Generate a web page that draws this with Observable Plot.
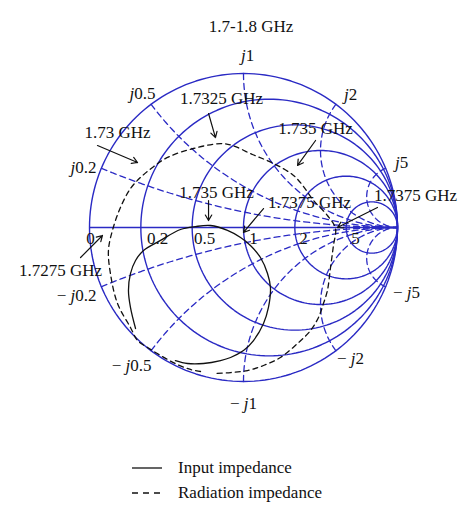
<!DOCTYPE html>
<html><head><meta charset="utf-8">
<script src="https://cdn.jsdelivr.net/npm/d3@7"></script>
<script src="https://cdn.jsdelivr.net/npm/@observablehq/plot@0.6"></script>
<style>
body{margin:0;background:#fff;font-family:"Liberation Serif","DejaVu Serif",serif;color:#111;}
#wrap{position:relative;width:474px;height:518px;overflow:hidden;}
#title{position:absolute;top:17px;left:251px;transform:translateX(-50%);font-size:17px;white-space:nowrap;line-height:20px;}
#chart{position:absolute;top:40px;left:0;}
.leg{position:absolute;left:132px;height:20px;display:flex;align-items:center;font-size:17px;white-space:nowrap;}
.leg svg{margin-right:16px;}
</style></head>
<body><div id="wrap">
<div id="title">1.7-1.8 GHz</div>
<div id="chart"></div>
<div class="leg" style="top:458px"><svg width="30" height="4"><line x1="0" y1="2" x2="30" y2="2" stroke="#111" stroke-width="1.3"/></svg>Input impedance</div>
<div class="leg" style="top:483px"><svg width="30" height="4"><line x1="0" y1="2" x2="30" y2="2" stroke="#111" stroke-width="1.3" stroke-dasharray="6,5"/></svg>Radiation impedance</div>
</div>
<script>
// Smith chart grid values
const resistanceValues = [0, 0.2, 0.5, 1, 2, 5];
const reactanceValues = [0.2, 0.5, 1, 2, 5, -0.2, -0.5, -1, -2, -5];
const resistanceLabels = ["0", "0.2", "0.5", "1", "2", "5"];
const resistanceLabelX = [-0.994, -0.558, -0.253, 0.065, 0.390, 0.727];
const resistanceLabelY = [-0.071, -0.071, -0.071, -0.071, -0.071, -0.071];
const reactanceLabels = ["j0.2", "j0.5", "j1", "j2", "j5", "− j0.2", "− j0.5", "− j1", "− j2", "− j5"];
const reactanceLabelX = [-1.039, -0.656, 0.026, 0.695, 1.026, -1.084, -0.727, 0.0, 0.695, 1.058];
const reactanceLabelY = [0.390, 0.870, 1.117, 0.864, 0.422, -0.442, -0.896, -1.143, -0.851, -0.422];

// Input impedance (reflection coefficient, real / imaginary)
const inputRe = [-0.701, -0.734, -0.747, -0.734, -0.701, -0.649, -0.539, -0.409, -0.312, -0.214, -0.104, -0.019, 0.045, 0.110, 0.156, 0.175, 0.162, 0.130, 0.065, 0.0, -0.084, -0.149, -0.260, -0.364, -0.442];
const inputIm = [-0.656, -0.519, -0.409, -0.299, -0.214, -0.149, -0.084, -0.013, 0.006, 0.013, -0.019, -0.065, -0.117, -0.195, -0.299, -0.390, -0.519, -0.623, -0.734, -0.799, -0.844, -0.864, -0.883, -0.883, -0.864];

// Radiation impedance (reflection coefficient, real / imaginary)
const radRe = [-0.279, -0.344, -0.429, -0.539, -0.623, -0.688, -0.734, -0.818, -0.864, -0.877, -0.851, -0.799, -0.734, -0.669, -0.591, -0.494, -0.325, -0.149, -0.071, 0.058, 0.195, 0.325, 0.390, 0.455, 0.545, 0.597, 0.584, 0.565, 0.545, 0.519, 0.487, 0.435, 0.351, 0.240, 0.130, 0.026, -0.084, -0.195];
const radIm = [-0.935, -0.922, -0.890, -0.831, -0.779, -0.734, -0.649, -0.494, -0.299, -0.149, -0.019, 0.130, 0.253, 0.325, 0.390, 0.455, 0.513, 0.545, 0.532, 0.474, 0.416, 0.338, 0.266, 0.175, 0.078, -0.006, -0.117, -0.260, -0.409, -0.494, -0.584, -0.669, -0.753, -0.844, -0.896, -0.929, -0.942, -0.948];

// Frequency annotations
const annotationText = ["1.73 GHz", "1.7325 GHz", "1.735 GHz", "1.735 GHz", "1.7375 GHz", "1.7375 GHz", "1.7275 GHz"];
const annotationX = [-0.818, -0.143, 0.468, -0.175, 0.429, 1.117, -1.188];
const annotationY = [0.617, 0.838, 0.643, 0.227, 0.162, 0.208, -0.279];
const arrowFromX = [-0.948, -0.227, 0.468, -0.227, 0.130, 0.870, -1.058];
const arrowFromY = [0.532, 0.740, 0.565, 0.175, 0.123, 0.130, -0.195];
const arrowToX = [-0.688, -0.182, 0.351, -0.227, 0.0, 0.610, -0.916];
const arrowToY = [0.422, 0.584, 0.403, 0.045, -0.032, 0.0, -0.052];

const BLUE = "#2a2ac4";

// grid geometry built from the grid values
const angles = d3.range(0, 361, 2).map(d => d * Math.PI / 180);
const resistancePts = resistanceValues.flatMap(r =>
  angles.map(t => ({r, x: r / (1 + r) + Math.cos(t) / (1 + r), y: Math.sin(t) / (1 + r)})));
const rSamples = [0].concat(d3.range(-3, 3.01, 0.02).map(e => Math.pow(10, e)));
const reactancePts = reactanceValues.flatMap(xv =>
  rSamples.map(r => {
    const D = (r + 1) * (r + 1) + xv * xv;
    return {xv, x: (r * r + xv * xv - 1) / D, y: 2 * xv / D};
  }));

const inputPts = inputRe.map((v, i) => ({x: v, y: inputIm[i]}));
const radPts = radRe.map((v, i) => ({x: v, y: radIm[i]}));
const resLab = resistanceLabels.map((t, i) => ({t, x: resistanceLabelX[i], y: resistanceLabelY[i]}));
const reaLab = reactanceLabels.map((t, i) => ({t, x: reactanceLabelX[i], y: reactanceLabelY[i]}));
const ann = annotationText.map((t, i) => ({t, x: annotationX[i], y: annotationY[i]}));
const arrows = arrowFromX.map((v, i) => ({x1: v, y1: arrowFromY[i], x2: arrowToX[i], y2: arrowToY[i]}));

const plot = Plot.plot({
  width: 474, height: 400,
  marginLeft: 89, marginRight: 77, marginTop: 33, marginBottom: 59,
  x: {domain: [-1, 1], axis: null},
  y: {domain: [-1, 1], axis: null},
  style: {fontFamily: "'Liberation Serif', 'DejaVu Serif', serif", background: "transparent", overflow: "visible"},
  marks: [
    Plot.line(reactancePts, {x: "x", y: "y", z: "xv", stroke: BLUE, strokeWidth: 1.3, strokeDasharray: "6,4"}),
    Plot.line(resistancePts, {x: "x", y: "y", z: "r", stroke: BLUE, strokeWidth: 1.4}),
    Plot.ruleY([0], {x1: -1, x2: 1, stroke: BLUE, strokeWidth: 1.4}),
    Plot.line(radPts, {x: "x", y: "y", stroke: "#111", strokeWidth: 1.3, strokeDasharray: "5,4", curve: "catmull-rom"}),
    Plot.line(inputPts, {x: "x", y: "y", stroke: "#111", strokeWidth: 1.3, curve: "catmull-rom"}),
    Plot.arrow(arrows, {x1: "x1", y1: "y1", x2: "x2", y2: "y2", stroke: "#111", strokeWidth: 1.2, headLength: 8}),
    Plot.text(resLab, {x: "x", y: "y", text: "t", fontSize: 17, fill: "#111"}),
    Plot.text(reaLab, {x: "x", y: "y", text: "t", fontSize: 17, fill: "#111"}),
    Plot.text(ann, {x: "x", y: "y", text: "t", fontSize: 17, fill: "#111"})
  ]
});
document.getElementById("chart").appendChild(plot);

// italic j in reactance labels
const ns = "http://www.w3.org/2000/svg";
plot.querySelectorAll("text").forEach(el => {
  const s = el.textContent;
  const k = s.indexOf("j");
  if (k < 0) return;
  while (el.firstChild) el.removeChild(el.firstChild);
  [[s.slice(0, k), false], ["j", true], [s.slice(k + 1), false]].forEach(([p, it]) => {
    if (!p) return;
    const ts = document.createElementNS(ns, "tspan");
    ts.textContent = p;
    if (it) ts.setAttribute("font-style", "italic");
    el.appendChild(ts);
  });
});
</script>
</body></html>
